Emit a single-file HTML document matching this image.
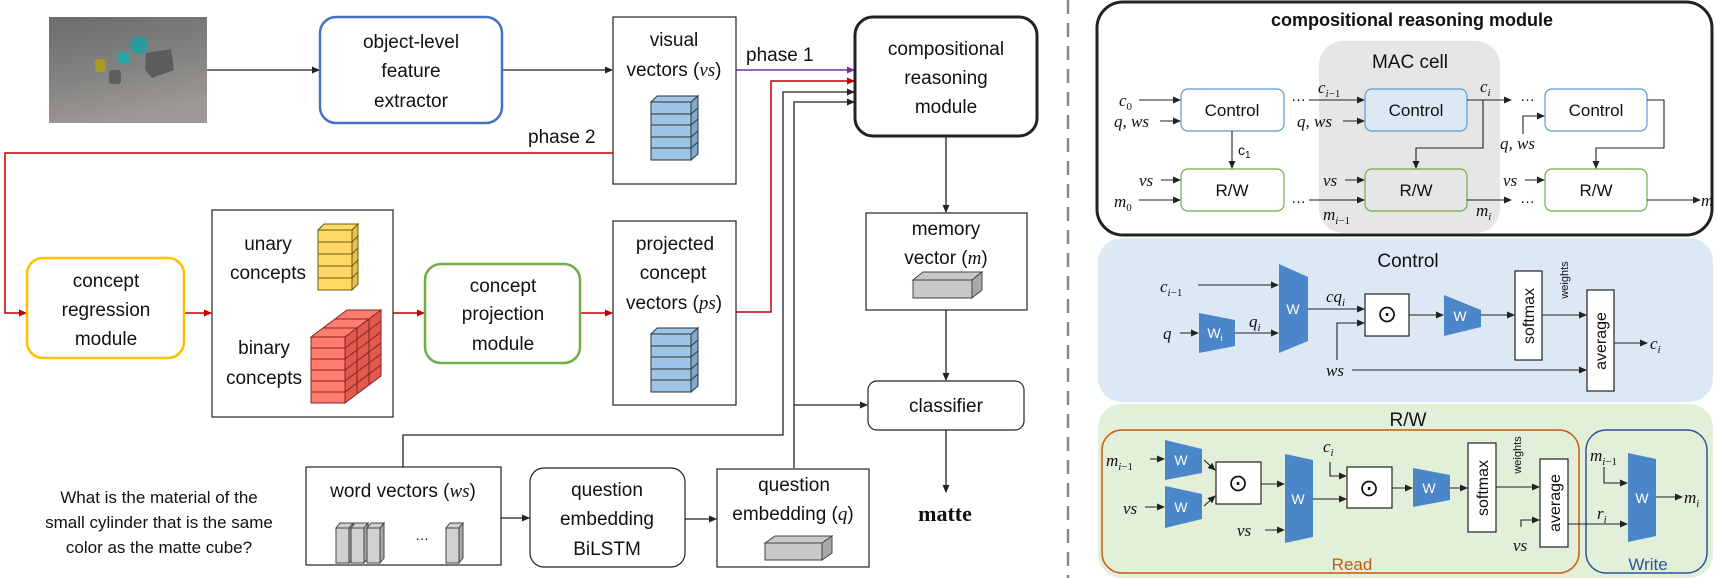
<!DOCTYPE html>
<html><head><meta charset="utf-8"><style>
html,body{margin:0;padding:0;background:#fff}
svg{display:block}
text{font-family:"Liberation Sans",sans-serif;fill:#111}
.m{font-family:"Liberation Serif",serif;font-style:italic}
</style></head><body>
<svg width="1717" height="578" viewBox="0 0 1717 578" xmlns="http://www.w3.org/2000/svg">
<defs>
<marker id="a" markerWidth="8" markerHeight="8" refX="7" refY="4" orient="auto" markerUnits="userSpaceOnUse"><path d="M0,0.5 L8,4 L0,7.5z" fill="#222"/></marker>
<marker id="ar" markerWidth="8" markerHeight="8" refX="7" refY="4" orient="auto" markerUnits="userSpaceOnUse"><path d="M0,0.5 L8,4 L0,7.5z" fill="#c00000"/></marker>
<marker id="ap" markerWidth="8" markerHeight="8" refX="7" refY="4" orient="auto" markerUnits="userSpaceOnUse"><path d="M0,0.5 L8,4 L0,7.5z" fill="#7030a0"/></marker>
<linearGradient id="ph" x1="0" y1="0" x2="0.3" y2="1"><stop offset="0" stop-color="#6c6c6c"/><stop offset="0.6" stop-color="#858482"/><stop offset="1" stop-color="#9c9893"/></linearGradient>
</defs>

<!-- photo -->
<rect x="49" y="17" width="158" height="106" fill="url(#ph)"/>
<circle cx="139" cy="45" r="9" fill="#2a9a9c"/>
<rect x="118" y="52" width="12" height="12" rx="3" fill="#2aa3a6"/>
<rect x="95" y="59" width="11" height="13" rx="3" fill="#a79a1e"/>
<rect x="109" y="70" width="12" height="14" rx="3" fill="#5e5e5e"/>
<polygon points="146,53 171,49 174,70 152,78 145,70" fill="#5c5c5c"/>

<g fill="none" stroke="#222" stroke-width="1.3">
<line x1="207" y1="70" x2="319" y2="70" marker-end="url(#a)"/>
<line x1="502" y1="70" x2="612" y2="70" marker-end="url(#a)"/>
</g>
<rect x="320" y="17" width="182" height="106" rx="16" fill="#fff" stroke="#4472c4" stroke-width="2.5"/>
<g font-size="19" text-anchor="middle"><text x="411" y="48">object-level</text><text x="411" y="77">feature</text><text x="411" y="107">extractor</text></g>

<!-- visual vectors -->
<rect x="613" y="17" width="123" height="167" fill="#fff" stroke="#222" stroke-width="1.2"/>
<text x="674" y="46" font-size="19" text-anchor="middle">visual</text>
<text x="674" y="76" font-size="19" text-anchor="middle">vectors (<tspan class="m">vs</tspan>)</text>
<g stroke="#333" stroke-width="1" fill="#9dc3e6">
<polygon points="651,102 657,96 698,96 691,102"/><polygon points="691,102 698,96 698,154 691,160" fill="#7fa9d0"/>
<rect x="651" y="102" width="40" height="58"/>
<path d="M651,114H691M651,125H691M651,137H691M651,148H691M691,114L698,108M691,125L698,119M691,137L698,131M691,148L698,142" fill="none"/>
</g>

<!-- phase lines -->
<text x="746" y="61" font-size="19">phase 1</text>
<line x1="736" y1="70" x2="854" y2="70" stroke="#7030a0" stroke-width="1.5" marker-end="url(#ap)"/>
<text x="528" y="143" font-size="19">phase 2</text>
<polyline points="613,153 5,153 5,313 26,313" fill="none" stroke="#c00000" stroke-width="1.5" marker-end="url(#ar)"/>
<polyline points="736,312 771,312 771,81 854,81" fill="none" stroke="#c00000" stroke-width="1.5" marker-end="url(#ar)"/>
<g fill="none" stroke="#c00000" stroke-width="1.5">
<line x1="184" y1="313" x2="211" y2="313" marker-end="url(#ar)"/>
<line x1="393" y1="313" x2="424" y2="313" marker-end="url(#ar)"/>
<line x1="580" y1="313" x2="612" y2="313" marker-end="url(#ar)"/>
</g>
<g fill="none" stroke="#222" stroke-width="1.3">
<polyline points="403,467 403,435 783,435 783,92 854,92" marker-end="url(#a)"/>
<polyline points="794,468 794,102 854,102" marker-end="url(#a)"/>
<line x1="794" y1="405" x2="867" y2="405" marker-end="url(#a)"/>
<line x1="946" y1="136" x2="946" y2="212" marker-end="url(#a)"/>
<line x1="946" y1="310" x2="946" y2="380" marker-end="url(#a)"/>
<line x1="946" y1="430" x2="946" y2="492" marker-end="url(#a)"/>
<line x1="501" y1="518" x2="529" y2="518" marker-end="url(#a)"/>
<line x1="685" y1="519" x2="716" y2="519" marker-end="url(#a)"/>
</g>

<!-- concept regression -->
<rect x="27" y="258" width="157" height="100" rx="16" fill="#fff" stroke="#ffc000" stroke-width="2.5"/>
<g font-size="19" text-anchor="middle"><text x="106" y="287">concept</text><text x="106" y="316">regression</text><text x="106" y="345">module</text></g>

<!-- concepts box -->
<rect x="212" y="210" width="181" height="207" fill="#fff" stroke="#222" stroke-width="1.2"/>
<g font-size="19" text-anchor="middle"><text x="268" y="250">unary</text><text x="268" y="279">concepts</text><text x="264" y="354">binary</text><text x="264" y="384">concepts</text></g>
<g stroke="#6b5a10" stroke-width="1" fill="#ffd966">
<polygon points="318,230 324,224 358,224 352,230"/><polygon points="352,230 358,224 358,284 352,290" fill="#e6c04d"/>
<rect x="318" y="230" width="34" height="60"/>
<path d="M318,242H352M318,254H352M318,266H352M318,278H352M352,242L358,236M352,254L358,248M352,266L358,260M352,278L358,272" fill="none"/>
</g>
<g stroke="#8a2020" stroke-width="1" fill="#ff7c70">
<polygon points="311,337 347,310 381,310 345,337"/>
<polygon points="345,337 381,310 381,376 345,403" fill="#e05a50"/>
<rect x="311" y="337" width="34" height="66"/>
<path d="M311,348H345M311,359H345M311,370H345M311,381H345M311,392H345M345,348L381,321M345,359L381,332M345,370L381,343M345,381L381,354M345,392L381,365M357,328V394M369,319V385M323,328H357M335,319H369" fill="none"/>
</g>

<!-- concept projection -->
<rect x="425" y="264" width="155" height="99" rx="16" fill="#fff" stroke="#70ad47" stroke-width="2.5"/>
<g font-size="19" text-anchor="middle"><text x="503" y="292">concept</text><text x="503" y="320">projection</text><text x="503" y="350">module</text></g>

<!-- projected -->
<rect x="613" y="221" width="123" height="184" fill="#fff" stroke="#222" stroke-width="1.2"/>
<g font-size="19" text-anchor="middle"><text x="675" y="250">projected</text><text x="673" y="279">concept</text><text x="674" y="309">vectors (<tspan class="m">ps</tspan>)</text></g>
<g stroke="#333" stroke-width="1" fill="#9dc3e6">
<polygon points="651,334 657,328 698,328 691,334"/><polygon points="691,334 698,328 698,386 691,392" fill="#7fa9d0"/>
<rect x="651" y="334" width="40" height="58"/>
<path d="M651,346H691M651,357H691M651,369H691M651,380H691M691,346L698,340M691,357L698,351M691,369L698,363M691,380L698,374" fill="none"/>
</g>

<!-- CRM -->
<rect x="855" y="17" width="182" height="119" rx="18" fill="#fff" stroke="#222" stroke-width="3"/>
<g font-size="19" text-anchor="middle"><text x="946" y="55">compositional</text><text x="946" y="84">reasoning</text><text x="946" y="113">module</text></g>

<!-- memory -->
<rect x="866" y="213" width="161" height="97" fill="#fff" stroke="#222" stroke-width="1.2"/>
<text x="946" y="235" font-size="19" text-anchor="middle">memory</text>
<text x="946" y="264" font-size="19" text-anchor="middle">vector (<tspan class="m">m</tspan>)</text>
<g stroke="#444" stroke-width="1" fill="#c8c8c8"><polygon points="913,280 923,272 982,272 972,280"/><polygon points="972,280 982,272 982,290 972,298" fill="#a8a8a8"/><rect x="913" y="280" width="59" height="18"/></g>

<rect x="868" y="381" width="156" height="49" rx="9" fill="#fff" stroke="#222" stroke-width="1.2"/>
<text x="946" y="412" font-size="19" text-anchor="middle">classifier</text>
<text x="945" y="521" font-size="22" font-weight="bold" text-anchor="middle" style="font-family:'Liberation Serif',serif">matte</text>

<!-- question -->
<g font-size="17" text-anchor="middle"><text x="159" y="503">What is the material of the</text><text x="159" y="528">small cylinder that is the same</text><text x="159" y="553">color as the matte cube?</text></g>
<rect x="306" y="467" width="195" height="98" fill="#fff" stroke="#222" stroke-width="1.2"/>
<text x="403" y="497" font-size="19" text-anchor="middle">word vectors (<tspan class="m">ws</tspan>)</text>
<g stroke="#444" stroke-width="1" fill="#d0d0d0">
<polygon points="336,528 340,523 353,523 349,528"/><polygon points="349,528 353,523 353,558 349,563" fill="#a8a8a8"/><rect x="336" y="528" width="13" height="35"/>
<polygon points="351,528 355,523 368,523 364,528"/><polygon points="364,528 368,523 368,558 364,563" fill="#a8a8a8"/><rect x="351" y="528" width="13" height="35"/>
<polygon points="367,528 371,523 384,523 380,528"/><polygon points="380,528 384,523 384,558 380,563" fill="#a8a8a8"/><rect x="367" y="528" width="13" height="35"/>
<polygon points="446,528 450,523 463,523 459,528"/><polygon points="459,528 463,523 463,558 459,563" fill="#a8a8a8"/><rect x="446" y="528" width="13" height="35"/>
</g>
<text x="422" y="540" font-size="14" text-anchor="middle">…</text>
<rect x="530" y="468" width="155" height="99" rx="14" fill="#fff" stroke="#222" stroke-width="1.2"/>
<g font-size="19" text-anchor="middle"><text x="607" y="496">question</text><text x="607" y="525">embedding</text><text x="607" y="555">BiLSTM</text></g>
<rect x="717" y="469" width="152" height="98" fill="#fff" stroke="#222" stroke-width="1.2"/>
<text x="794" y="491" font-size="19" text-anchor="middle">question</text>
<text x="793" y="520" font-size="19" text-anchor="middle">embedding (<tspan class="m">q</tspan>)</text>
<g stroke="#444" stroke-width="1" fill="#c8c8c8"><polygon points="765,543 775,536 832,536 822,543"/><polygon points="822,543 832,536 832,553 822,560" fill="#a8a8a8"/><rect x="765" y="543" width="57" height="17"/></g>

<!-- dashed divider -->
<line x1="1068" y1="0" x2="1068" y2="578" stroke="#888" stroke-width="2.5" stroke-dasharray="14,9"/>

<!-- ===== right: CRM detail ===== -->
<rect x="1097" y="2" width="615" height="233" rx="26" fill="#fff" stroke="#222" stroke-width="3"/>
<text x="1412" y="26" font-size="18" font-weight="bold" text-anchor="middle">compositional reasoning module</text>
<rect x="1319" y="41" width="181" height="192" rx="24" fill="#e6e6e6"/>
<text x="1410" y="68" font-size="19" text-anchor="middle">MAC cell</text>
<g fill="#fff" stroke="#5b9bd5" stroke-width="1.2">
<rect x="1181" y="89" width="103" height="42" rx="7"/><rect x="1365" y="89" width="102" height="42" rx="7" fill="#dde8f5"/><rect x="1545" y="89" width="102" height="42" rx="7"/>
</g>
<g fill="#fff" stroke="#70ad47" stroke-width="1.2">
<rect x="1181" y="169" width="103" height="42" rx="7"/><rect x="1365" y="169" width="102" height="42" rx="7" fill="#e6e6e6"/><rect x="1545" y="169" width="102" height="42" rx="7"/>
</g>
<g font-size="17" text-anchor="middle">
<text x="1232" y="116">Control</text><text x="1416" y="116">Control</text><text x="1596" y="116">Control</text>
<text x="1232" y="196">R/W</text><text x="1416" y="196">R/W</text><text x="1596" y="196">R/W</text>
</g>
<g fill="none" stroke="#222" stroke-width="1.1">
<line x1="1139" y1="100" x2="1180" y2="100" marker-end="url(#a)"/>
<line x1="1160" y1="121" x2="1180" y2="121" marker-end="url(#a)"/>
<line x1="1232" y1="131" x2="1232" y2="168" marker-end="url(#a)"/>
<line x1="1161" y1="180" x2="1180" y2="180" marker-end="url(#a)"/>
<line x1="1139" y1="200" x2="1180" y2="200" marker-end="url(#a)"/>
<line x1="1309" y1="100" x2="1364" y2="100" marker-end="url(#a)"/>
<line x1="1343" y1="121" x2="1364" y2="121" marker-end="url(#a)"/>
<line x1="1345" y1="180" x2="1364" y2="180" marker-end="url(#a)"/>
<line x1="1309" y1="200" x2="1364" y2="200" marker-end="url(#a)"/>
<line x1="1467" y1="100" x2="1511" y2="100" marker-end="url(#a)"/>
<polyline points="1483,100 1483,148 1416,148 1416,168" marker-end="url(#a)"/>
<line x1="1467" y1="200" x2="1511" y2="200" marker-end="url(#a)"/>
<polyline points="1523,134 1523,116 1544,116" marker-end="url(#a)"/>
<line x1="1525" y1="180" x2="1544" y2="180" marker-end="url(#a)"/>
<polyline points="1647,100 1664,100 1664,148 1596,148 1596,168" marker-end="url(#a)"/>
<line x1="1647" y1="200" x2="1700" y2="200" marker-end="url(#a)"/>
</g>
<g font-size="17" class="m">
<text x="1119" y="106" class="m">c<tspan font-size="11" dy="4" font-style="normal">0</tspan></text>
<text x="1114" y="127" class="m">q, ws</text>
<text x="1139" y="186" class="m">vs</text>
<text x="1114" y="207" class="m">m<tspan font-size="11" dy="4" font-style="normal">0</tspan></text>
<text x="1318" y="93" class="m">c<tspan font-size="11" dy="4">i</tspan><tspan font-size="11" font-style="normal">−1</tspan></text>
<text x="1297" y="127" class="m">q, ws</text>
<text x="1323" y="186" class="m">vs</text>
<text x="1323" y="220" class="m">m<tspan font-size="11" dy="4">i</tspan><tspan font-size="11" font-style="normal">−1</tspan></text>
<text x="1480" y="92" class="m">c<tspan font-size="11" dy="4">i</tspan></text>
<text x="1476" y="216" class="m">m<tspan font-size="11" dy="4">i</tspan></text>
<text x="1500" y="149" class="m">q, ws</text>
<text x="1503" y="186" class="m">vs</text>
<text x="1701" y="206" class="m">m</text>
</g>
<text x="1238" y="155" font-size="14">c<tspan font-size="10" dy="3">1</tspan></text>
<g font-size="15"><text x="1291" y="101">…</text><text x="1291" y="203">…</text><text x="1520" y="101">…</text><text x="1520" y="203">…</text></g>

<!-- ===== Control panel ===== -->
<rect x="1098" y="238" width="615" height="164" rx="24" fill="#dde8f5"/>
<text x="1408" y="267" font-size="19" text-anchor="middle">Control</text>
<g fill="#4a86c8">
<polygon points="1279,264 1308,277 1308,341 1279,353"/>
<polygon points="1199,313 1235,320 1235,346 1199,353"/>
<polygon points="1444,295 1481,310 1481,327 1444,336"/>
</g>
<g fill="#fff" font-size="14" text-anchor="middle"><text x="1293" y="314" style="fill:#fff">W</text><text x="1215" y="338" style="fill:#fff">W<tspan font-size="9" dy="3">i</tspan></text><text x="1460" y="321" style="fill:#fff">W</text></g>
<g fill="#fff" stroke="#222" stroke-width="1.2">
<rect x="1365" y="294" width="44" height="42"/>
<rect x="1515" y="271" width="27" height="89"/>
<rect x="1587" y="290" width="27" height="101"/>
</g>
<text x="1387" y="322" font-size="24" text-anchor="middle">⊙</text>
<text transform="translate(1534,316) rotate(-90)" font-size="16" text-anchor="middle">softmax</text>
<text transform="translate(1606,341) rotate(-90)" font-size="16" text-anchor="middle">average</text>
<text transform="translate(1568,280) rotate(-90)" font-size="11" text-anchor="middle">weights</text>
<g fill="none" stroke="#222" stroke-width="1.1">
<line x1="1198" y1="285" x2="1278" y2="285" marker-end="url(#a)"/>
<line x1="1180" y1="333" x2="1198" y2="333" marker-end="url(#a)"/>
<line x1="1235" y1="333" x2="1278" y2="333" marker-end="url(#a)"/>
<line x1="1308" y1="309" x2="1364" y2="309" marker-end="url(#a)"/>
<polyline points="1337,360 1337,323 1364,323" marker-end="url(#a)"/>
<line x1="1409" y1="315" x2="1443" y2="315" marker-end="url(#a)"/>
<line x1="1481" y1="315" x2="1514" y2="315" marker-end="url(#a)"/>
<line x1="1542" y1="315" x2="1586" y2="315" marker-end="url(#a)"/>
<line x1="1352" y1="370" x2="1586" y2="370" marker-end="url(#a)"/>
<line x1="1614" y1="343" x2="1647" y2="343" marker-end="url(#a)"/>
</g>
<g font-size="17">
<text x="1160" y="292" class="m">c<tspan font-size="11" dy="4">i</tspan><tspan font-size="11" font-style="normal">−1</tspan></text>
<text x="1163" y="339" class="m">q</text>
<text x="1249" y="327" class="m">q<tspan font-size="11" dy="4">i</tspan></text>
<text x="1326" y="302" class="m">cq<tspan font-size="11" dy="4">i</tspan></text>
<text x="1326" y="376" class="m">ws</text>
<text x="1650" y="349" class="m">c<tspan font-size="11" dy="4">i</tspan></text>
</g>

<!-- ===== R/W panel ===== -->
<rect x="1098" y="404" width="615" height="174" rx="24" fill="#e2efd9"/>
<text x="1408" y="426" font-size="19" text-anchor="middle">R/W</text>
<rect x="1102" y="430" width="477" height="143" rx="20" fill="none" stroke="#c55a11" stroke-width="1.5"/>
<rect x="1586" y="430" width="121" height="143" rx="20" fill="none" stroke="#2f5597" stroke-width="1.5"/>
<text x="1352" y="570" font-size="17" text-anchor="middle" style="fill:#c55a11">Read</text>
<text x="1648" y="570" font-size="17" text-anchor="middle" style="fill:#2f5597">Write</text>
<g fill="#4a86c8">
<polygon points="1165,440 1202,449 1202,473 1165,480"/>
<polygon points="1165,486 1202,494 1202,519 1165,528"/>
<polygon points="1285,454 1313,460 1313,537 1285,543"/>
<polygon points="1413,468 1450,475 1450,500 1413,507"/>
<polygon points="1628,453 1656,459 1656,536 1628,542"/>
</g>
<g font-size="14" text-anchor="middle"><text x="1181" y="465" style="fill:#fff">W</text><text x="1181" y="512" style="fill:#fff">W</text><text x="1298" y="504" style="fill:#fff">W</text><text x="1429" y="493" style="fill:#fff">W</text><text x="1642" y="503" style="fill:#fff">W</text></g>
<g fill="#fff" stroke="#222" stroke-width="1.2">
<rect x="1216" y="462" width="45" height="42"/>
<rect x="1347" y="467" width="45" height="41"/>
<rect x="1468" y="443" width="28" height="89"/>
<rect x="1540" y="459" width="28" height="88"/>
</g>
<text x="1238" y="491" font-size="24" text-anchor="middle">⊙</text>
<text x="1369" y="496" font-size="24" text-anchor="middle">⊙</text>
<text transform="translate(1488,488) rotate(-90)" font-size="16" text-anchor="middle">softmax</text>
<text transform="translate(1560,503) rotate(-90)" font-size="16" text-anchor="middle">average</text>
<text transform="translate(1521,455) rotate(-90)" font-size="11" text-anchor="middle">weights</text>
<g fill="none" stroke="#222" stroke-width="1.1">
<line x1="1150" y1="459" x2="1164" y2="459" marker-end="url(#a)"/>
<line x1="1145" y1="507" x2="1164" y2="507" marker-end="url(#a)"/>
<line x1="1204" y1="460" x2="1215" y2="470" marker-end="url(#a)"/>
<line x1="1204" y1="506" x2="1215" y2="496" marker-end="url(#a)"/>
<line x1="1261" y1="484" x2="1284" y2="484" marker-end="url(#a)"/>
<line x1="1265" y1="530" x2="1284" y2="530" marker-end="url(#a)"/>
<line x1="1313" y1="499" x2="1346" y2="499" marker-end="url(#a)"/>
<polyline points="1330,462 1330,476 1346,476" marker-end="url(#a)"/>
<line x1="1392" y1="488" x2="1412" y2="488" marker-end="url(#a)"/>
<line x1="1450" y1="488" x2="1467" y2="488" marker-end="url(#a)"/>
<line x1="1496" y1="487" x2="1539" y2="487" marker-end="url(#a)"/>
<polyline points="1521,527 1521,520 1539,520" marker-end="url(#a)"/>
<line x1="1568" y1="524" x2="1627" y2="524" marker-end="url(#a)"/>
<polyline points="1604,467 1604,483 1627,483" marker-end="url(#a)"/>
<line x1="1656" y1="497" x2="1682" y2="497" marker-end="url(#a)"/>
</g>
<g font-size="17">
<text x="1106" y="466" class="m">m<tspan font-size="11" dy="4">i</tspan><tspan font-size="11" font-style="normal">−1</tspan></text>
<text x="1123" y="514" class="m">vs</text>
<text x="1237" y="536" class="m">vs</text>
<text x="1323" y="452" class="m">c<tspan font-size="11" dy="4">i</tspan></text>
<text x="1513" y="551" class="m">vs</text>
<text x="1597" y="519" class="m">r<tspan font-size="11" dy="4">i</tspan></text>
<text x="1590" y="461" class="m">m<tspan font-size="11" dy="4">i</tspan><tspan font-size="11" font-style="normal">−1</tspan></text>
<text x="1684" y="503" class="m">m<tspan font-size="11" dy="4">i</tspan></text>
</g>
</svg>
</body></html>
